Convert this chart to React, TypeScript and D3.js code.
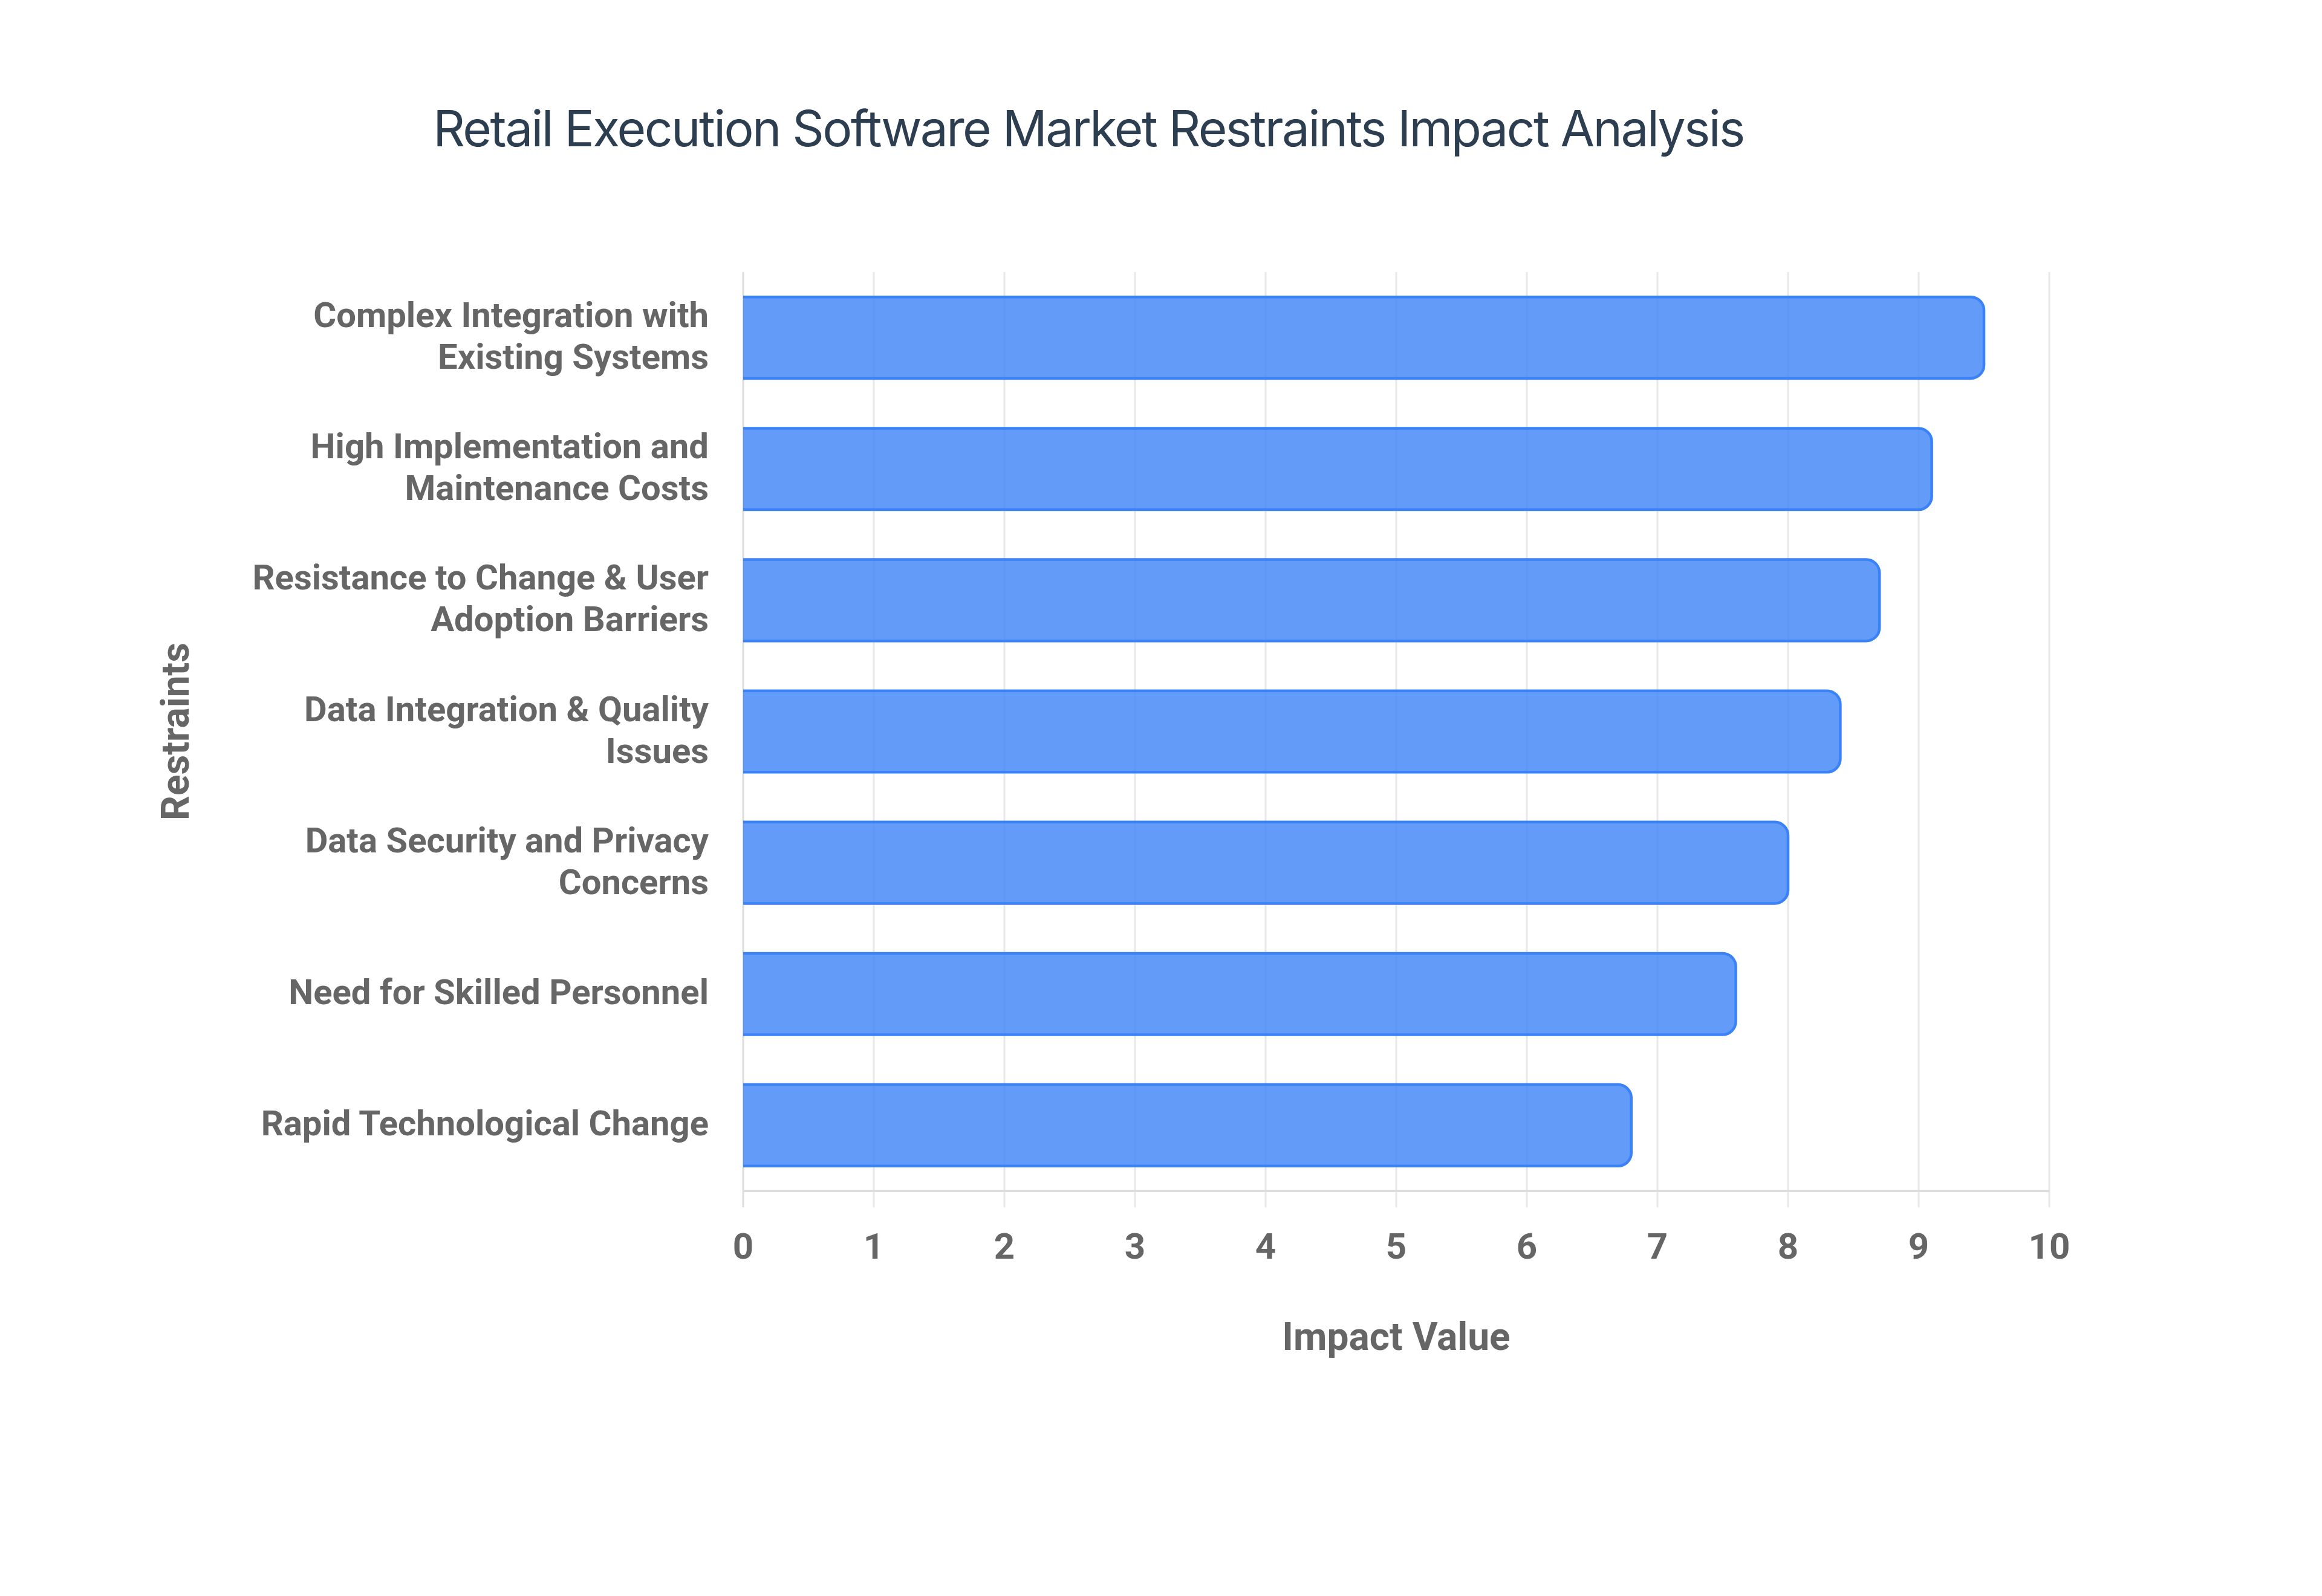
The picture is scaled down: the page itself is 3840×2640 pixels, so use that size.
import { useEffect, useRef } from 'react';
import * as d3 from 'd3';

// Data
const restraints = [
  'Complex Integration with\nExisting Systems',
  'High Implementation and\nMaintenance Costs',
  'Resistance to Change & User\nAdoption Barriers',
  'Data Integration & Quality\nIssues',
  'Data Security and Privacy\nConcerns',
  'Need for Skilled Personnel',
  'Rapid Technological Change',
];
const impactValues = [9.5, 9.1, 8.7, 8.4, 8.0, 7.6, 6.8];
const xTicks = [0, 1, 2, 3, 4, 5, 6, 7, 8, 9, 10];

const TITLE = 'Retail Execution Software Market Restraints Impact Analysis';
const X_TITLE = 'Impact Value';
const Y_TITLE = 'Restraints';

export default function App() {
  const ref = useRef<SVGSVGElement>(null);

  useEffect(() => {
    document.body.style.margin = '0';
    if (!ref.current) return;

    const W = 3840;
    const H = 2640;
    const left = 1229;
    const right = 3389;
    const top = 450;
    const bottom = 1970;
    const TICK_LEN = 27;
    const LABEL_FONT = 'Roboto, "Liberation Sans", Arial, sans-serif';
    const GRAY = '#666666';
    const BLUE = '#3b82f6';

    const x = d3.scaleLinear().domain([0, 10]).range([left, right]);
    const y = d3.scaleBand<string>()
      .domain(restraints)
      .range([top, bottom])
      .paddingInner(0.38)
      .paddingOuter(0.19);

    const svg = d3.select(ref.current);
    svg.selectAll('*').remove();
    svg.attr('width', W).attr('height', H).attr('viewBox', `0 0 ${W} ${H}`);

    svg.append('rect').attr('width', W).attr('height', H).attr('fill', '#ffffff');

    // Title
    svg.append('text')
      .attr('x', 1800)
      .attr('y', 242)
      .attr('text-anchor', 'middle')
      .style('font-family', 'Inter, "Open Sans", sans-serif')
      .style('font-size', '82px')
      .style('letter-spacing', '-2.6px')
      .style('font-weight', 400)
      .style('fill', '#2c3e50')
      .text(TITLE);

    // Grid
    svg.append('g')
      .selectAll('line')
      .data(xTicks)
      .join('line')
      .attr('x1', d => x(d))
      .attr('x2', d => x(d))
      .attr('y1', top)
      .attr('y2', bottom + TICK_LEN)
      .attr('stroke', d => (d === 0 ? '#dddddd' : '#e8e8e8'))
      .attr('stroke-width', 3);

    // Bottom axis line
    svg.append('line')
      .attr('x1', left)
      .attr('x2', right)
      .attr('y1', bottom)
      .attr('y2', bottom)
      .attr('stroke', '#dddddd')
      .attr('stroke-width', 4);

    // Bars, rounded at the value end only
    const data = restraints.map((name, i) => ({ name, value: impactValues[i] }));
    const R = 22;
    const shape = (d: { name: string; value: number }, closed: boolean) => {
      const x0 = x(0);
      const x1 = x(d.value);
      const y0 = y(d.name)!;
      const y1 = y0 + y.bandwidth();
      const p = d3.path();
      p.moveTo(x0, y0);
      p.lineTo(x1 - R, y0);
      p.arcTo(x1, y0, x1, y0 + R, R);
      p.lineTo(x1, y1 - R);
      p.arcTo(x1, y1, x1 - R, y1, R);
      p.lineTo(x0, y1);
      if (closed) p.closePath();
      return p.toString();
    };

    const bars = svg.append('g');
    bars.selectAll('path.fill')
      .data(data)
      .join('path')
      .attr('class', 'fill')
      .attr('d', d => shape(d, true))
      .attr('fill', BLUE)
      .attr('fill-opacity', 0.8);
    bars.selectAll('path.edge')
      .data(data)
      .join('path')
      .attr('class', 'edge')
      .attr('d', d => shape(d, false))
      .attr('fill', 'none')
      .attr('stroke', BLUE)
      .attr('stroke-width', 4.5);

    // X tick labels
    svg.append('g')
      .selectAll('text')
      .data(xTicks)
      .join('text')
      .attr('x', d => x(d))
      .attr('y', 2082)
      .attr('text-anchor', 'middle')
      .style('font-family', LABEL_FONT)
      .style('font-size', '60px')
      .style('font-weight', 700)
      .style('fill', GRAY)
      .text(d => String(d));

    // Category labels
    const LINE_H = 69;
    const cats = svg.append('g')
      .selectAll('text')
      .data(restraints)
      .join('text')
      .attr('text-anchor', 'end')
      .style('font-family', LABEL_FONT)
      .style('font-size', '58px')
      .style('font-weight', 700)
      .style('fill', GRAY);
    cats.each(function (d) {
      const lines = d.split('\n');
      const cy = y(d)! + y.bandwidth() / 2;
      d3.select(this)
        .selectAll('tspan')
        .data(lines)
        .join('tspan')
        .attr('x', 1172)
        .attr('y', (_, i) => cy + 17 + (i - (lines.length - 1) / 2) * LINE_H)
        .text(t => t);
    });

    // Axis titles
    svg.append('text')
      .attr('x', (left + right) / 2)
      .attr('y', 2233)
      .attr('text-anchor', 'middle')
      .style('font-family', LABEL_FONT)
      .style('font-size', '64px')
      .style('font-weight', 700)
      .style('fill', GRAY)
      .text(X_TITLE);

    svg.append('text')
      .attr('transform', `translate(312, ${(top + bottom) / 2}) rotate(-90)`)
      .attr('text-anchor', 'middle')
      .style('font-family', LABEL_FONT)
      .style('font-size', '64px')
      .style('font-weight', 700)
      .style('fill', GRAY)
      .text(Y_TITLE);
  }, []);

  return <svg ref={ref} style={{ display: 'block' }} />;
}
